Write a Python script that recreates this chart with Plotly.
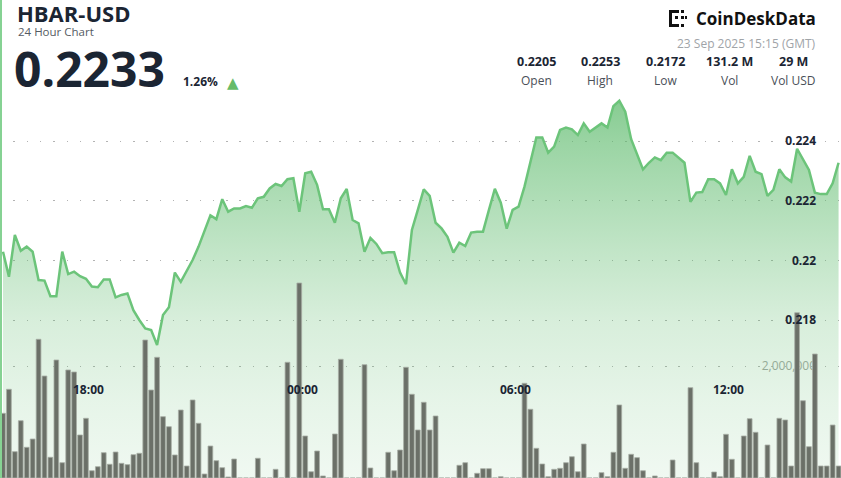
import pandas as pd
import plotly.graph_objects as go

W, H = 841, 478

# ---------------- data ----------------
start_time = "2025-09-22 15:35"
prices = [
    0.22029, 0.21945, 0.22085, 0.22032, 0.22046, 0.22029, 0.21934, 0.21932, 0.21880, 0.21880,
    0.22029, 0.21954, 0.21962, 0.21947, 0.21938, 0.21912, 0.21910, 0.21936, 0.21936, 0.21876,
    0.21884, 0.21889, 0.21833, 0.21800, 0.21772, 0.21766, 0.21716, 0.21817, 0.21843, 0.21959,
    0.21928, 0.21965, 0.22001, 0.22046, 0.22096, 0.22151, 0.22138, 0.22205, 0.22163, 0.22174,
    0.22174, 0.22182, 0.22176, 0.22208, 0.22213, 0.22241, 0.22256, 0.22249, 0.22272, 0.22275,
    0.22163, 0.22292, 0.22297, 0.22253, 0.22171, 0.22171, 0.22126, 0.22208, 0.22239, 0.22135,
    0.22124, 0.22029, 0.22075, 0.22055, 0.22024, 0.22027, 0.22027, 0.21959, 0.21920, 0.22102,
    0.22169, 0.22238, 0.22216, 0.22126, 0.22107, 0.22079, 0.22026, 0.22059, 0.22048, 0.22093,
    0.22096, 0.22096, 0.22169, 0.22240, 0.22193, 0.22106, 0.22169, 0.22180, 0.22247, 0.22325,
    0.22412, 0.22412, 0.22361, 0.22381, 0.22437, 0.22445, 0.22439, 0.22420, 0.22459, 0.22431,
    0.22445, 0.22459, 0.22445, 0.22517, 0.22535, 0.22498, 0.22406, 0.22356, 0.22305, 0.22327,
    0.22345, 0.22336, 0.22361, 0.22361, 0.22345, 0.22327, 0.22196, 0.22227, 0.22229, 0.22272,
    0.22272, 0.22258, 0.22219, 0.22305, 0.22258, 0.22280, 0.22350, 0.22297, 0.22289, 0.22216,
    0.22236, 0.22305, 0.22278, 0.22264, 0.22374, 0.22336, 0.22303, 0.22227, 0.22222, 0.22222,
    0.22258, 0.22327,
]
volumes = [
    1155000, 1584000, 470000, 1023000, 548000, 696000, 2477000, 1821000, 370000, 2107000,
    273000, 1929000, 1893000, 768000, 1066000, 130000, 202000, 452000, 245000, 464000,
    262000, 238000, 416000, 441000, 2464000, 1571000, 2155000, 1095000, 916000, 411000,
    1214000, 214000, 1393000, 977000, 71000, 571000, 309000, 184000, 18000, 339000,
    0, 0, 0, 352000, 0, 0, 155000, 0, 2066000, 0,
    3482000, 750000, 112000, 482000, 36000, 0, 786000, 2120000, 0, 0,
    0, 2023000, 179000, 0, 0, 459000, 130000, 500000, 1977000, 1495000,
    857000, 1352000, 857000, 1107000, 0, 0, 0, 227000, 273000, 0,
    84000, 166000, 166000, 0, 23000, 0, 0, 0, 1691000, 1227000,
    530000, 250000, 23000, 155000, 173000, 273000, 380000, 112000, 607000, 0,
    0, 95000, 23000, 459000, 1304000, 173000, 423000, 363000, 130000, 0,
    36000, 0, 0, 321000, 0, 0, 1613000, 273000, 0, 0,
    107000, 23000, 780000, 334000, 0, 750000, 1059000, 816000, 0, 589000,
    0, 1066000, 1036000, 214000, 2952000, 1380000, 559000, 2214000, 214000, 214000,
    946000, 214000,
]
times = pd.date_range(start_time, periods=len(prices), freq="10min")

price_ticks = [0.218, 0.22, 0.222, 0.224]
price_tick_labels = ["0.218", "0.22", "0.222", "0.224"]
vol_ticks = [2000000]
vol_tick_labels = ["2,000,000"]
time_ticks = ["2025-09-22 18:00", "2025-09-23 00:00", "2025-09-23 06:00", "2025-09-23 12:00"]
time_tick_labels = ["18:00", "00:00", "06:00", "12:00"]

symbol = "HBAR-USD"
subtitle = "24 Hour Chart"
last_price = "0.2233"
change_pct = "1.26%"
stamp = "23 Sep 2025 15:15 (GMT)"
stat_values = ["0.2205", "0.2253", "0.2172", "131.2 M", "29 M"]
stat_labels = ["Open", "High", "Low", "Vol", "Vol USD"]

# ---------------- styling ----------------
FONT = "Open Sans"
DARK = "#1b2533"
GREEN_LINE = "rgb(108,196,122)"
P_MIN, P_MAX = 0.212704, 0.228726
V_MAX = 8.536e6
X_RANGE = ["2025-09-22 15:29:56", "2025-09-23 15:09:06"]


def px(x):
    return x / W


def py(y):
    return 1 - y / H


fig = go.Figure()

fig.add_trace(go.Scatter(
    x=times, y=prices, mode="lines",
    line=dict(color=GREEN_LINE, width=2.5, shape="linear"),
    fill="tozeroy",
    fillgradient=dict(
        type="vertical", start=P_MIN, stop=max(prices),
        colorscale=[
            [0.0, "rgba(90,185,105,0.09)"],
            [0.2, "rgba(90,185,105,0.15)"],
            [0.42, "rgba(90,185,105,0.24)"],
            [0.6, "rgba(90,185,105,0.37)"],
            [0.735, "rgba(90,185,105,0.48)"],
            [0.89, "rgba(90,185,105,0.61)"],
            [1.0, "rgba(90,185,105,0.73)"],
        ],
    ),
    hoverinfo="skip", showlegend=False, yaxis="y",
))

fig.add_trace(go.Bar(
    x=times, y=volumes, yaxis="y2",
    marker=dict(color="#6b7068", line=dict(color="#a7ada5", width=0.8)),
    hoverinfo="skip", showlegend=False,
))

grid_common = dict(gridcolor="#b3b3b3", gridwidth=1, griddash="1.5px,11.8px",
                   zeroline=False, showline=False, ticks="")

fig.update_layout(
    width=W, height=H,
    margin=dict(l=0, r=0, t=0, b=0, pad=0),
    paper_bgcolor="white", plot_bgcolor="white",
    bargap=0.2,
    xaxis=dict(range=X_RANGE, showgrid=False, zeroline=False, showticklabels=False,
               showline=False, ticks=""),
    yaxis=dict(range=[P_MIN, P_MAX], side="right", tickvals=price_ticks,
               ticktext=price_tick_labels, ticklabelposition="inside",
               ticklabelstandoff=22,
               tickfont=dict(family=FONT, size=12, color=DARK, weight="bold"),
               showgrid=True, **grid_common),
    yaxis2=dict(range=[0, V_MAX], overlaying="y", side="right", tickvals=vol_ticks,
                ticktext=vol_tick_labels, ticklabelposition="inside",
                ticklabelstandoff=22, layer="below traces",
                tickfont=dict(family=FONT, size=12, color="#a3a8a3"),
                showgrid=True, **grid_common),
    font=dict(family=FONT),
)

ann = []
# time axis labels (placed in the middle of the chart like the original)
for tv, tt in zip(time_ticks, time_tick_labels):
    ann.append(dict(x=tv, xref="x", y=py(389), yref="paper", text=tt, showarrow=False,
                    xanchor="center", yanchor="middle",
                    font=dict(family=FONT, size=12, color=DARK, weight="bold")))

# header left
ann.append(dict(x=px(15), y=py(13), xref="paper", yref="paper", text=symbol, showarrow=False,
                xanchor="left", yanchor="middle",
                font=dict(family=FONT, size=22, color=DARK, weight="bold")))
ann.append(dict(x=px(16), y=py(32), xref="paper", yref="paper", text=subtitle, showarrow=False,
                xanchor="left", yanchor="middle",
                font=dict(family=FONT, size=11.5, color="#555b63")))
ann.append(dict(x=px(12), y=py(68), xref="paper", yref="paper", text=last_price, showarrow=False,
                xanchor="left", yanchor="middle",
                font=dict(family=FONT, size=48, color=DARK, weight="bold")))
ann.append(dict(x=px(181), y=py(82), xref="paper", yref="paper", text=change_pct, showarrow=False,
                xanchor="left", yanchor="middle",
                font=dict(family=FONT, size=12, color=DARK, weight="bold")))
ann.append(dict(x=px(233), y=py(83), xref="paper", yref="paper", text="▲", showarrow=False,
                xanchor="center", yanchor="middle",
                font=dict(family="DejaVu Sans", size=15, color="#66bb6a")))

# header right
ann.append(dict(x=px(818), y=py(18), xref="paper", yref="paper", text="CoinDeskData",
                showarrow=False, xanchor="right", yanchor="middle",
                font=dict(family=FONT, size=17, color="#111111", weight="bold")))
ann.append(dict(x=px(818), y=py(43), xref="paper", yref="paper", text=stamp, showarrow=False,
                xanchor="right", yanchor="middle",
                font=dict(family=FONT, size=12, color="#a0a4a8")))
stat_x = [536, 600, 665, 729, 793]
for sx, sv, sl in zip(stat_x, stat_values, stat_labels):
    ann.append(dict(x=px(sx), y=py(61.5), xref="paper", yref="paper", text=sv, showarrow=False,
                    xanchor="center", yanchor="middle",
                    font=dict(family=FONT, size=12.5, color=DARK, weight="bold")))
    ann.append(dict(x=px(sx), y=py(81), xref="paper", yref="paper", text=sl, showarrow=False,
                    xanchor="center", yanchor="middle",
                    font=dict(family=FONT, size=12, color="#4a5058")))
fig.update_layout(annotations=ann)

# decorative elements: left accent line and logo icon
shapes = [dict(type="line", xref="paper", yref="paper", x0=px(1), x1=px(1), y0=0, y1=1,
               line=dict(color="#86d293", width=2))]
logo_rects = [
    (669, 10, 672, 27), (669, 10, 679, 13), (669, 24, 679, 27),
    (675, 16, 678, 19), (681, 10, 684, 13), (681, 16, 684, 19), (681, 24, 684, 27),
    (685, 16, 687, 19),
]
for x0, y0, x1, y1 in logo_rects:
    shapes.append(dict(type="rect", xref="paper", yref="paper", x0=px(x0), x1=px(x1),
                       y0=py(y1), y1=py(y0), fillcolor="#111111", line=dict(width=0)))
fig.update_layout(shapes=shapes)

fig.write_html(
    "out.html",
    config={"displayModeBar": False},
    post_script="document.body.style.margin='0';document.body.style.padding='0';"
                "document.body.style.overflow='hidden';",
)
